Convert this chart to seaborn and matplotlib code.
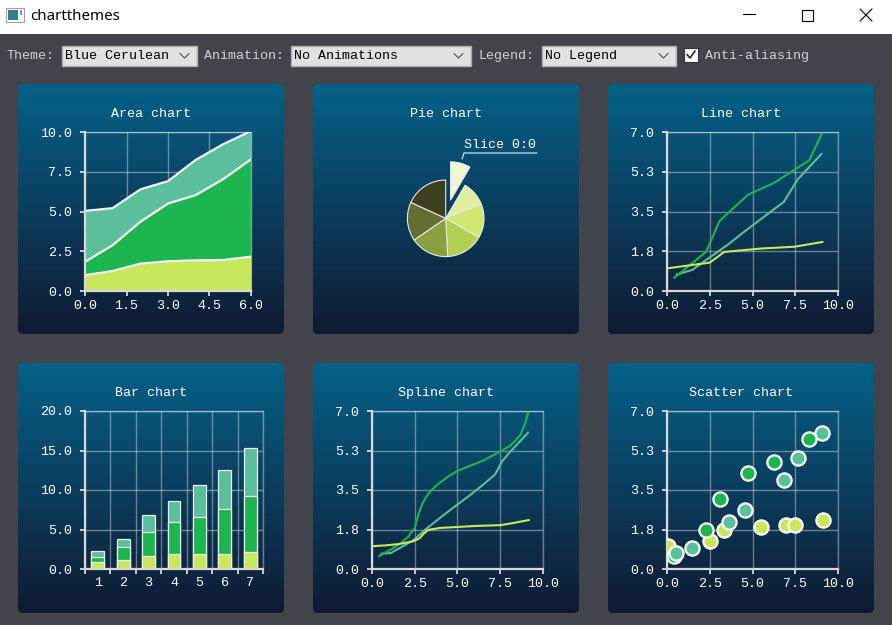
import numpy as np
import pandas as pd
import seaborn as sns
import matplotlib.pyplot as plt
from matplotlib.patches import FancyBboxPatch, Rectangle

W, H = 892, 625

sns.set_style("ticks")
plt.rcParams["font.family"] = ["Liberation Mono", "DejaVu Sans Mono"]
plt.rcParams["font.size"] = 9.6

# Blue Cerulean theme colours
yellow = "#c7e85b"
green = "#1cb54f"
teal = "#5cbf9b"
bg_top = "#056189"
bg_bottom = "#101a31"
window_col = "#42444b"
axis_col = "#d8d8d8"
grid_col = "#ffffff"

# area chart
area_x = [0, 1, 2, 3, 4, 5, 6]
area_low = [0.99, 1.26, 1.72, 1.87, 1.93, 1.95, 2.16]
area_mid = [1.83, 2.88, 4.35, 5.50, 6.03, 7.04, 8.28]
area_high = [5.04, 5.21, 6.39, 6.91, 8.24, 9.24, 10.06]

# pie chart
pie_values = [1.0, 1.25, 1.72, 1.87, 1.93, 1.95, 2.16]
pie_colors = ["#f0f8d4", "#e0f0a0", "#d0e872", "#b4d052", "#8a9f40", "#626f30", "#3c401c"]

# line and scatter charts
yellow_x = [0.05, 2.5, 3.35, 5.5, 6.97, 7.47, 9.1]
yellow_y = [1.0, 1.25, 1.72, 1.87, 1.93, 1.95, 2.16]
green_x = [0.42, 2.28, 3.08, 4.74, 6.26, 8.33, 9.5]
green_y = [0.58, 1.72, 3.09, 4.24, 4.76, 5.76, 7.65]
teal_x = [0.55, 1.48, 3.61, 4.55, 6.84, 7.64, 9.04]
teal_y = [0.72, 0.93, 2.07, 2.63, 3.93, 4.91, 6.04]

# bar chart
bar_labels = ["1", "2", "3", "4", "5", "6", "7"]
bar_low = [0.93, 1.18, 1.69, 1.86, 1.94, 1.94, 2.16]
bar_mid = [1.56, 2.83, 4.74, 6.00, 6.64, 7.65, 9.22]
bar_high = [2.28, 3.76, 6.81, 8.63, 10.57, 12.56, 15.26]

# spline chart
spline_yellow_x = [0, 0.84, 1.62, 2.41, 2.76, 3.03, 3.29, 3.97, 4.95, 6.13, 7.5, 8.28, 9.18]
spline_yellow_y = [1.01, 1.05, 1.11, 1.23, 1.35, 1.57, 1.73, 1.82, 1.86, 1.91, 1.94, 2.04, 2.17]
spline_green_x = [0.41, 1.04, 1.62, 2.11, 2.5, 2.7, 2.95, 3.29, 3.78, 4.36, 4.95, 5.73, 6.52,
                  7.3, 8.08, 8.67, 8.96, 9.16]
spline_green_y = [0.56, 0.84, 1.11, 1.42, 1.82, 2.38, 2.9, 3.34, 3.71, 4.05, 4.33, 4.57, 4.81,
                  5.12, 5.46, 5.93, 6.45, 7.0]
spline_teal_x = [0.55, 1.08, 1.62, 2.41, 3.19, 4.17, 4.95, 5.73, 6.52, 7.2, 7.59, 8.08, 8.67, 9.14]
spline_teal_y = [0.68, 0.70, 0.93, 1.27, 1.79, 2.38, 2.83, 3.27, 3.75, 4.19, 4.75, 5.19, 5.67, 6.05]

y_ticks_7 = [0, 1.75, 3.5, 5.25, 7]
y_labels_7 = ["0.0", "1.8", "3.5", "5.3", "7.0"]
x_ticks_10 = [0, 2.5, 5, 7.5, 10]
x_labels_10 = ["0.0", "2.5", "5.0", "7.5", "10.0"]


def px_axes(l, t, r, b):
    ax = fig.add_axes([l / W, 1 - b / H, (r - l) / W, (b - t) / H], zorder=2)
    ax.patch.set_alpha(0)
    return ax


def style_axes(ax, xticks, xlabels, yticks, ylabels, ylim, xlim=None):
    if xlim is not None:
        ax.set_xlim(*xlim)
    ax.set_ylim(*ylim)
    ax.set_yticks(yticks, ylabels)
    if xticks is not None:
        ax.set_xticks(xticks, xlabels)
    ax.grid(True, color=grid_col, alpha=0.38, lw=1.0)
    ax.set_axisbelow(True)
    ax.tick_params(which="major", length=3.6, width=1.3, color=axis_col, labelcolor="white",
                   labelsize=9.6)
    ax.tick_params(axis="x", which="major", pad=2.6)
    ax.tick_params(axis="y", which="major", pad=5.5)
    ax.set_xlabel("")
    ax.set_ylabel("")
    for side in ["left", "bottom"]:
        ax.spines[side].set_color(axis_col)
        ax.spines[side].set_linewidth(1.6)
    for side in ["top", "right"]:
        ax.spines[side].set_color(grid_col)
        ax.spines[side].set_alpha(0.38)
        ax.spines[side].set_linewidth(1.0)
        ax.spines[side].set_visible(True)


def line(ax, x, y, col, lw=1.5):
    sns.lineplot(x=x, y=y, sort=False, estimator=None, color=col, lw=lw, ax=ax, legend=False)


fig = plt.figure(figsize=(W / 100, H / 100), dpi=100, facecolor=window_col)
bg = fig.add_axes([0, 0, 1, 1], zorder=0)
bg.set_xlim(0, W)
bg.set_ylim(H, 0)
bg.axis("off")

# window chrome
bg.add_patch(Rectangle((0, 0), W, 34, fc="white", ec="none"))
bg.add_patch(Rectangle((5.5, 8), 18, 14, fc="#ffffff", ec="#a0a0a0", lw=0.8))
bg.add_patch(Rectangle((8, 10), 10, 10, fc="#3c7d8c", ec="none"))
bg.add_patch(Rectangle((20, 10), 1.5, 5, fc="#8aa0a8", ec="none"))
bg.text(30, 16, "chartthemes", family="Noto Sans", fontsize=10.8, color="black", va="center")
bg.plot([743, 755], [14, 14], color="black", lw=0.8)
bg.add_patch(Rectangle((801.5, 9.5), 11, 11, fc="none", ec="black", lw=0.8))
bg.plot([860, 872], [9, 21], color="black", lw=0.8)
bg.plot([860, 872], [21, 9], color="black", lw=0.8)

# toolbar
for label, x in [("Theme:", 7), ("Animation:", 204), ("Legend:", 478), ("Anti-aliasing", 705)]:
    bg.text(x, 56, label, color="#d2d2d2", va="center")
for label, l, r in [("Blue Cerulean", 62, 197), ("No Animations", 291, 471), ("No Legend", 542, 676)]:
    bg.add_patch(Rectangle((l, 45.5), r - l - 0.5, 20.5, fc="#e1e1e1", ec="#adadad", lw=1))
    bg.text(l + 3, 56, label, color="black", va="center")
    bg.plot([r - 17, r - 12.5, r - 8], [53.5, 58, 53.5], color="#505050", lw=0.8)
bg.add_patch(Rectangle((684, 47.5), 14, 14, fc="white", ec="#333333", lw=0.8))
bg.plot([687, 690, 695], [54.5, 58, 51], color="#333333", lw=1.3)

# panels with vertical gradient
c0 = np.array(plt.matplotlib.colors.to_rgb(bg_top))
c1 = np.array(plt.matplotlib.colors.to_rgb(bg_bottom))
ramp = np.linspace(0, 1, 256)[:, None, None]
grad = c0[None, None, :] * (1 - ramp) + c1[None, None, :] * ramp
panels = [(18, 84), (313, 84), (608, 84), (18, 363), (313, 363), (608, 363)]
titles = ["Area chart", "Pie chart", "Line chart", "Bar chart", "Spline chart", "Scatter chart"]
for (l, t), title in zip(panels, titles):
    im = bg.imshow(grad, extent=(l, l + 266, t + 250, t), aspect="auto", zorder=1)
    clip = FancyBboxPatch((l + 5, t + 5), 256, 240, boxstyle="round,pad=5,rounding_size=5",
                          fc="none", ec="none", transform=bg.transData)
    bg.add_patch(clip)
    im.set_clip_path(clip)
    bg.text(l + 133, t + 30, title, color="white", ha="center", va="center", zorder=3)
bg.set_xlim(0, W)
bg.set_ylim(H, 0)

# area chart
ax = px_axes(85, 132, 251, 291)
ax.fill_between(area_x, 0, area_low, color=yellow, lw=0)
ax.fill_between(area_x, area_low, area_mid, color=green, lw=0)
ax.fill_between(area_x, area_mid, area_high, color=teal, lw=0)
for vals in [area_low, area_mid, area_high]:
    line(ax, area_x, vals, "#f4f4f4", lw=1.6)
style_axes(ax, [0, 1.5, 3, 4.5, 6], ["0.0", "1.5", "3.0", "4.5", "6.0"],
           [0, 2.5, 5, 7.5, 10], ["0.0", "2.5", "5.0", "7.5", "10.0"], (0, 10), (0, 6))

# pie chart, radius in pixels so explode is in pixels too
pie_radius = 38.3
ax = fig.add_axes([313 / W, 1 - 334 / H, 266 / W, 250 / H], zorder=2)
ax.patch.set_alpha(0)
ax.pie(pie_values, colors=pie_colors, explode=[18.8, 0, 0, 0, 0, 0, 0], startangle=90,
       counterclock=False, radius=pie_radius,
       wedgeprops={"edgecolor": "#e8e8e8", "linewidth": 0.8})
ax.set_xlim(313 - 445.7, 579 - 445.7)
ax.set_ylim(218.3 - 334, 218.3 - 84)
ax.axis("off")
bg.plot([462, 464, 537], [159, 153, 153], color="#c8dce6", lw=0.9, zorder=3)
bg.text(464, 145, "Slice 0:0", color="white", va="center", zorder=3)

# line chart
ax = px_axes(667, 132, 838, 291)
line(ax, teal_x, teal_y, teal)
line(ax, green_x, green_y, green)
line(ax, yellow_x, yellow_y, yellow)
style_axes(ax, x_ticks_10, x_labels_10, y_ticks_7, y_labels_7, (0, 7), (0, 10))

# bar chart, cumulative heights drawn back to front
ax = px_axes(85, 411, 263, 569)
for vals, col in [(bar_high, teal), (bar_mid, green), (bar_low, yellow)]:
    sns.barplot(x=bar_labels, y=vals, order=bar_labels, color=col, saturation=1, width=0.51,
                edgecolor="#ececec", linewidth=0.9, ax=ax)
style_axes(ax, None, None, [0, 5, 10, 15, 20], ["0.0", "5.0", "10.0", "15.0", "20.0"], (0, 20))
ax.set_xticks(np.arange(-0.5, 7), [""] * 8)
ax.set_xticks(np.arange(7), bar_labels, minor=True)
ax.set_xlim(-0.5, 6.5)
ax.tick_params(axis="x", which="minor", length=0, labelcolor="white", labelsize=9.6, pad=5.5)
ax.grid(True, which="major", color=grid_col, alpha=0.38, lw=1.0)
ax.grid(False, which="minor")

# spline chart
ax = px_axes(372, 411, 543, 569)
line(ax, spline_teal_x, spline_teal_y, teal)
line(ax, spline_green_x, spline_green_y, green)
line(ax, spline_yellow_x, spline_yellow_y, yellow)
style_axes(ax, x_ticks_10, x_labels_10, y_ticks_7, y_labels_7, (0, 7), (0, 10))

# scatter chart
ax = px_axes(667, 411, 838, 569)
for x, y, col in [(yellow_x, yellow_y, yellow), (green_x, green_y, green), (teal_x, teal_y, teal)]:
    sns.scatterplot(x=x, y=y, color=col, s=105, edgecolor="white", linewidth=1.6, ax=ax,
                    legend=False, zorder=3)
style_axes(ax, x_ticks_10, x_labels_10, y_ticks_7, y_labels_7, (0, 7), (0, 10))

fig.savefig("out.png", dpi=100, facecolor=window_col)
